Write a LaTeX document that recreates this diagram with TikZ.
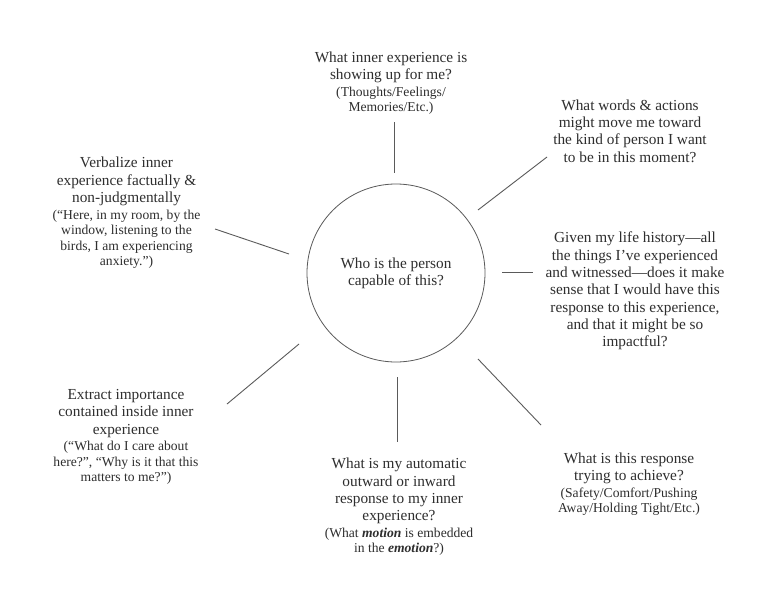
\documentclass[tikz,border=0pt]{standalone}
\usepackage{fontspec}
\setmainfont{Liberation Serif}
\definecolor{txt}{HTML}{2E2E2E}
\definecolor{linec}{HTML}{5A5A5A}
\newcommand{\subtx}{\fontsize{13.6}{15.5}\selectfont}
\begin{document}
\begin{tikzpicture}[x=1pt,y=-1pt,
  main/.style={font=\fontsize{15.3}{17.3}\selectfont, align=center, inner sep=0pt, text=txt},
  spoke/.style={draw=linec, line width=0.9pt},
  hub/.style={circle, draw=linec, line width=0.8pt, minimum size=178pt, inner sep=0pt}]
\useasboundingbox[fill=white] (0,0) rectangle (768,594);

\node[hub] (c) at (396,273) {};
\node[main] (ctext) at (396,273) {Who is the person\\capable of this?};

\node[main] (top) at (391,83) {What inner experience is\\showing up for me?\\[-0.6pt]{\subtx (Thoughts/Feelings/}\\[-1.8pt]{\subtx Memories/Etc.)}};

\node[main] (ur) at (630,131) {What words \& actions\\might move me toward\\the kind of person I want\\to be in this moment?};

\node[main] (left) at (126.5,213) {Verbalize inner\\experience factually \&\\non-judgmentally\\[-0.6pt]{\subtx (“Here, in my room, by the}\\[-1.8pt]{\subtx window, listening to the}\\[-1.8pt]{\subtx birds, I am experiencing}\\[-1.8pt]{\subtx anxiety.”)}};

\node[main] (right) at (635,291) {Given my life history—all\\the things I’ve experienced\\and witnessed—does it make\\sense that I would have this\\response to this experience,\\and that it might be so\\impactful?};

\node[main] (ll) at (126,437) {Extract importance\\contained inside inner\\experience\\[-0.6pt]{\subtx (“What do I care about}\\[-1.8pt]{\subtx here?”, “Why is it that this}\\[-1.8pt]{\subtx matters to me?”)}};

\node[main] (bot) at (399,507) {What is my automatic\\outward or inward\\response to my inner\\experience?\\[-0.6pt]{\subtx (What \textbf{\textit{motion}} is embedded}\\[-1.8pt]{\subtx in the \textbf{\textit{emotion}}?)}};

\node[main] (lr) at (629,484) {What is this response\\trying to achieve?\\[-0.6pt]{\subtx (Safety/Comfort/Pushing}\\[-1.8pt]{\subtx Away/Holding Tight/Etc.)}};

% spoke end points
\coordinate (t1) at (394,122);   \coordinate (t2) at (394,173);
\coordinate (ur1) at (547,157);  \coordinate (ur2) at (478,210);
\coordinate (l1) at (215,229);   \coordinate (l2) at (289,254);
\coordinate (r1) at (502,272);   \coordinate (r2) at (533,272);
\coordinate (ll1) at (299,344);  \coordinate (ll2) at (227,404);
\coordinate (b1) at (397,377);   \coordinate (b2) at (397,442);
\coordinate (lr1) at (478,359);  \coordinate (lr2) at (541,425);

\draw[spoke] (t1) -- (t2);
\draw[spoke] (ur1) -- (ur2);
\draw[spoke] (l1) -- (l2);
\draw[spoke] (r1) -- (r2);
\draw[spoke] (ll1) -- (ll2);
\draw[spoke] (b1) -- (b2);
\draw[spoke] (lr1) -- (lr2);
\end{tikzpicture}
\end{document}
